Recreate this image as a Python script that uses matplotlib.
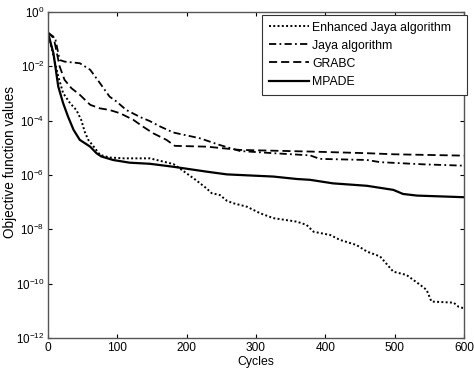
import numpy as np
import matplotlib
matplotlib.use("Agg")
import matplotlib.pyplot as plt

plt.rcParams['font.family'] = ['Liberation Sans', 'DejaVu Sans']
plt.rcParams['mathtext.fontset'] = 'custom'
plt.rcParams['mathtext.rm'] = 'Liberation Sans'
plt.rcParams['mathtext.default'] = 'regular'

# curves: cycles and log10 of objective value
ej_x = [0, 5, 15, 22, 32, 41, 48, 53, 58, 68, 75, 89, 110, 147, 181, 195, 214, 229, 236,
        248, 258, 267, 287, 306, 325, 359, 373, 383, 407, 421, 445, 460, 479, 498, 517,
        537, 546, 553, 585, 592, 600]
ej_log = [-0.76, -1.28, -2.38, -2.99, -3.36, -3.61, -3.97, -4.4, -4.7, -5.02, -5.26, -5.36,
          -5.39, -5.39, -5.6, -5.85, -6.2, -6.5, -6.67, -6.74, -6.95, -7.04, -7.17, -7.41,
          -7.59, -7.72, -7.84, -8.09, -8.21, -8.39, -8.58, -8.82, -9.0, -9.56, -9.68, -10.05,
          -10.23, -10.66, -10.70, -10.85, -10.91]

jaya_x = [0, 11, 17, 24, 46, 61, 75, 89, 99, 113, 133, 147, 162, 181, 219, 248, 277, 325,
          378, 392, 460, 479, 541, 600]
jaya_log = [-0.76, -1.03, -1.77, -1.83, -1.89, -2.13, -2.62, -3.12, -3.30, -3.61, -3.87,
            -4.02, -4.22, -4.44, -4.65, -4.90, -5.12, -5.20, -5.28, -5.41, -5.45, -5.53,
            -5.61, -5.66]

grabc_x = [0, 8, 17, 24, 34, 46, 61, 75, 89, 104, 123, 137, 152, 171, 183, 229, 277, 378,
           460, 498, 600]
grabc_log = [-0.76, -0.91, -2.01, -2.50, -2.81, -3.05, -3.42, -3.55, -3.61, -3.73, -3.97,
             -4.22, -4.47, -4.71, -4.93, -4.96, -5.08, -5.14, -5.20, -5.24, -5.29]

mpade_x = [0, 8, 15, 22, 29, 37, 46, 61, 70, 77, 94, 118, 147, 181, 229, 258, 325, 359,
           378, 411, 460, 498, 512, 532, 600]
mpade_log = [-0.76, -1.52, -2.75, -3.36, -3.85, -4.34, -4.71, -4.96, -5.20, -5.32, -5.45,
             -5.55, -5.59, -5.70, -5.88, -5.98, -6.06, -6.15, -6.18, -6.31, -6.40, -6.55,
             -6.70, -6.76, -6.82]

labels = ['Enhanced Jaya algorithm', 'Jaya algorithm', 'GRABC', 'MPADE']

fig = plt.figure(figsize=(4.74, 3.71), dpi=100)
ax = fig.add_axes([0.101, 0.089, 0.878, 0.879])

ax.plot(ej_x, 10.0 ** np.array(ej_log), color='k', lw=1.4, ls=(0, (1, 1.2)), label=labels[0])
ax.plot(jaya_x, 10.0 ** np.array(jaya_log), color='k', lw=1.3, ls=(0, (4, 1.8, 1, 1.8)), label=labels[1])
ax.plot(grabc_x, 10.0 ** np.array(grabc_log), color='k', lw=1.3, ls=(0, (4.5, 2.2)), label=labels[2])
ax.plot(mpade_x, 10.0 ** np.array(mpade_log), color='k', lw=1.6, ls='-', label=labels[3])

ax.set_yscale('log')
ax.set_xlim(0, 600)
ax.set_ylim(1e-12, 1)
ax.set_xticks([0, 100, 200, 300, 400, 500, 600])
ax.set_yticks([1e0, 1e-2, 1e-4, 1e-6, 1e-8, 1e-10, 1e-12])
ax.minorticks_off()
ax.tick_params(direction='in', top=True, right=True, length=3, width=0.8, labelsize=8.6, pad=3)
ax.tick_params(axis='y', labelsize=8.4, pad=2.5)

for sp in ax.spines.values():
    sp.set_color('#555555')
    sp.set_linewidth(1.0)

ax.set_xlabel('Cycles', fontsize=8.8, labelpad=1)
ax.set_ylabel('Objective function values', fontsize=9.8)
ax.yaxis.set_label_coords(-0.073, 0.54)

# legend box stretched to the width it has in the picture
leg = ax.legend(loc='upper left', bbox_to_anchor=(0.514, 0.991, 0.493, 0.0), mode='expand',
                borderaxespad=0, fontsize=8.8, fancybox=False, framealpha=1,
                edgecolor='#333333', handlelength=3.3, handletextpad=0.25,
                labelspacing=0.5, borderpad=0.55)
leg.get_frame().set_linewidth(0.8)

fig.savefig('out.png', dpi=100)
